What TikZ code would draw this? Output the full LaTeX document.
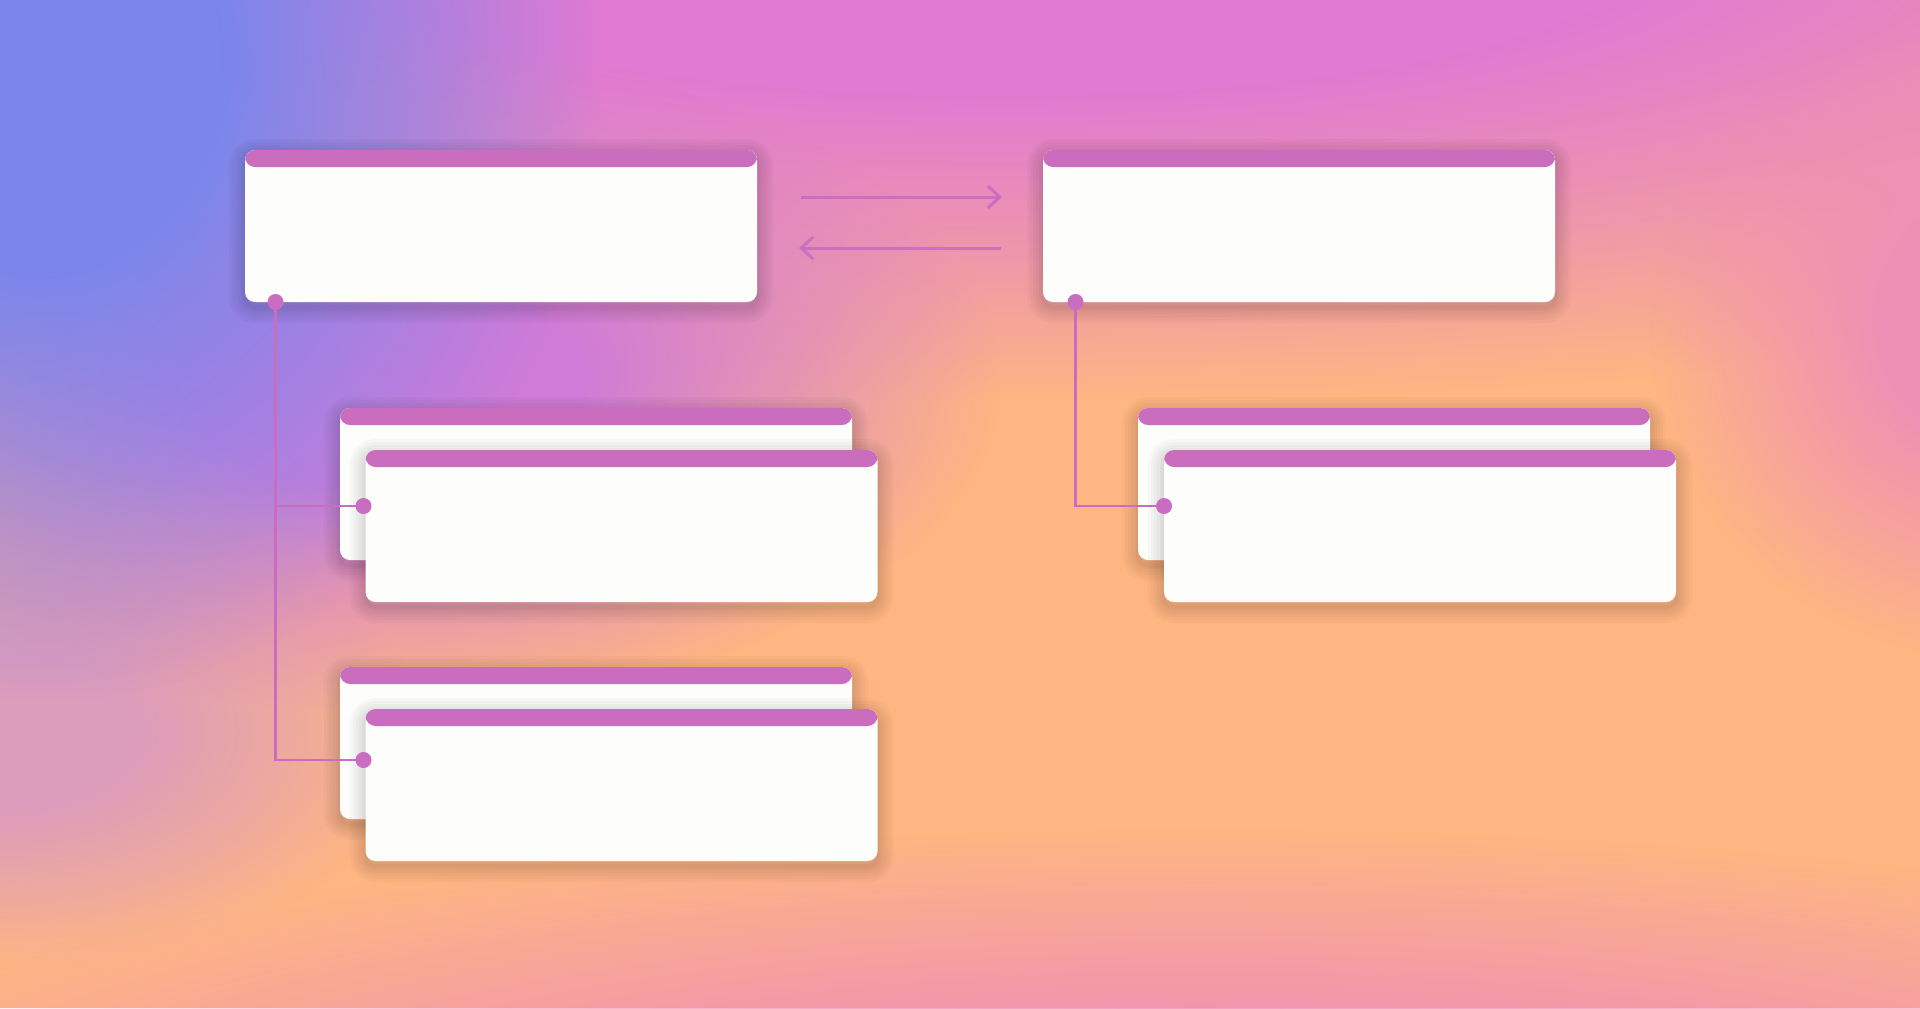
\documentclass[tikz,border=0pt]{standalone}
\usepackage{tikz}
\usetikzlibrary{arrows.meta,fadings}

\definecolor{bgorange}{HTML}{FFB682}
\definecolor{bgmagenta}{HTML}{E07AD2}
\definecolor{bgviolet}{HTML}{D07BD8}
\definecolor{bgmauve}{HTML}{DC9CBC}
\definecolor{bgblue}{HTML}{7A86EC}
\definecolor{bgpink}{HTML}{EE8FB6}
\definecolor{headpink}{HTML}{CB6DBE}
\definecolor{cardwhite}{HTML}{FDFDFB}
\definecolor{linkpink}{HTML}{C96CC2}

\pgfdeclareradialshading{blobshade}{\pgfpointorigin}{rgb(0bp)=(1,1,1); rgb(8bp)=(1,1,1); rgb(17bp)=(0.5,0.5,0.5); rgb(25bp)=(0,0,0); rgb(50bp)=(0,0,0)}
\pgfdeclarefading{blob}{\pgfuseshading{blobshade}}

\tikzset{
	soft/.style={preaction={draw=black, draw opacity=.022, line width=#1, transform canvas={yshift=-2.5pt}}},
	card/.style={rectangle, rounded corners=5pt, fill=cardwhite, minimum width=256pt, minimum height=76pt,
		inner sep=0pt, outer sep=0pt, anchor=north west,
		soft=16pt, soft=13pt, soft=10pt, soft=7pt, soft=4pt, soft=2pt,
		path picture={\fill[headpink] (path picture bounding box.north west) rectangle ([yshift=-8.5pt]path picture bounding box.north east);}},
	link/.style={draw=linkpink, line width=1.35pt},
	flow/.style={draw=linkpink, line width=1.5pt, opacity=.9, -{Straight Barb[length=6pt,width=11pt]}}
}

\begin{document}
\begin{tikzpicture}[x=0.5pt, y=-0.5pt]
	\useasboundingbox (0,0) rectangle (1920,1008);
	\fill[bgorange] (0,0) rectangle (1920,1008);
	\begin{scope}
		\clip (0,0) rectangle (1920,1008);
		\foreach \cx/\cy/\rx/\ry/\col in {1000/-50/2000/450/bgmagenta, 0/730/420/240/bgmauve, 380/380/620/330/bgviolet,
			40/60/560/640/bgblue, 1200/1150/1500/320/bgpink, 2000/330/350/330/bgpink}
		\fill[\col, path fading=blob] ({\cx-\rx},{\cy-\ry}) rectangle ({\cx+\rx},{\cy+\ry});
	\end{scope}

	\node[card] (t_0) at (245,150) {};
	\node[card] (t_1) at (1043,150) {};
	\node[card] (b_0) at (340,408) {};
	\node[card] (f_0) at (365.5,450) {};
	\node[card] (b_1) at (340,667) {};
	\node[card] (f_1) at (365.5,709) {};
	\node[card] (b_2) at (1138,408) {};
	\node[card] (f_2) at (1164,450) {};

	\coordinate (d_0) at ([xshift=15.25pt]t_0.south west);
	\coordinate (d_1) at ([xshift=16.25pt]t_1.south west);
	\coordinate (e_0) at ([shift={(-1pt,-28pt)}]f_0.north west);
	\coordinate (e_1) at ([shift={(-1pt,-25.5pt)}]f_1.north west);
	\coordinate (e_2) at ([shift={(0pt,-28pt)}]f_2.north west);

	\draw[link] (d_0) |- (e_0);
	\draw[link] (d_0) |- (e_1);
	\draw[link] (d_1) |- (e_2);
	\foreach \p in {d_0,d_1,e_0,e_1,e_2}
		\fill[linkpink] (\p) circle (4pt);

	\draw[flow] ([shift={(22pt,14.5pt)}]t_0.east) -- ([shift={(-20.5pt,14.5pt)}]t_1.west);
	\draw[flow] ([shift={(-21pt,-11pt)}]t_1.west) -- ([shift={(21pt,-11pt)}]t_0.east);
\end{tikzpicture}
\end{document}
